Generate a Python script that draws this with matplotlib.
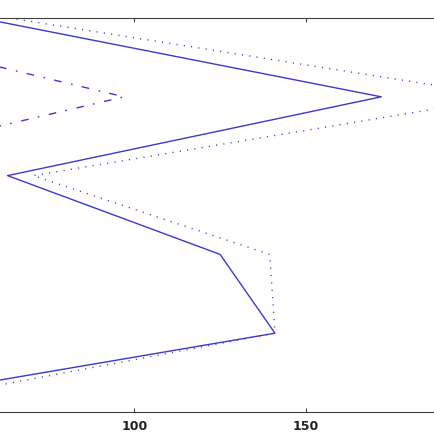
import matplotlib
matplotlib.use('Agg')
import matplotlib.pyplot as plt

# profile levels (top to bottom) and the three series
levels = [0, 1, 2, 3, 4, 5]
solid_vals = [55, 172, 63, 125, 141, 6]
dotted_vals = [63.5, 209, 70.5, 139.5, 141, 19]
dashdot_vals = [1, 97, -1, 5, 10, 3]
xticks = [100, 150]

blue = '#3a3acd'

fig = plt.figure(figsize=(4.34, 4.34), dpi=100)
ax = fig.add_axes([0.0, 0.0507, 1.0, 0.9078])

ax.plot(solid_vals, levels, color=blue, lw=1.0, ls='-')
ax.plot(dotted_vals, levels, color=blue, lw=1.0, ls=(0, (0.8, 4.5)))
ax.plot(dashdot_vals, levels, color=blue, lw=1.0, ls=(0, (5.5, 7.0, 1.2, 6.7)))

ax.set_xticks(xticks)
ax.set_xticklabels([str(t) for t in xticks], fontsize=9, fontweight='bold', color='#202020')
ax.set_yticks([])
ax.set_xlim(60.8, 187.4)
ax.set_ylim(5, 0)
ax.tick_params(axis='x', direction='in', length=3, width=0.8, color='#404040',
               top=True, bottom=True, pad=6)

for side in ['left', 'right']:
    ax.spines[side].set_visible(False)
for side in ['top', 'bottom']:
    ax.spines[side].set_color('#404040')
    ax.spines[side].set_linewidth(0.8)

fig.savefig('out.png', dpi=100)
